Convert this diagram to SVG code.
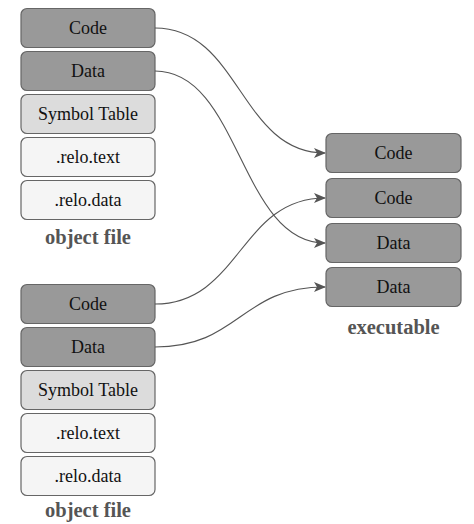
<svg xmlns="http://www.w3.org/2000/svg" width="474" height="524" viewBox="0 0 474 524">
<defs>
<style>
.box{stroke:#666;stroke-width:1.2}
.dark{fill:#999}
.sym{fill:#dcdcdc}
.relo{fill:#f5f5f5}
.t{font-family:"Liberation Serif","Times New Roman",serif;font-size:18px;fill:#111;text-anchor:middle;dominant-baseline:central}
.lbl{font-family:"Liberation Serif","Times New Roman",serif;font-size:20.5px;font-weight:bold;fill:#555;text-anchor:middle;dominant-baseline:central}
.edge{fill:none;stroke:#555;stroke-width:1.1}
</style>
<marker id="arr" viewBox="0 0 12 10" refX="11" refY="5" markerWidth="12" markerHeight="10" markerUnits="userSpaceOnUse" orient="auto">
<path d="M0,0 L12,5 L0,10 L3,5 Z" fill="#555"/>
</marker>
</defs>
<g id="obj1">
<g id="obj1-code"><rect class="box dark" x="21" y="8.5" width="134" height="39" rx="6"/><text class="t" x="88" y="28">Code</text></g>
<g id="obj1-data"><rect class="box dark" x="21" y="51.5" width="134" height="39" rx="6"/><text class="t" x="88" y="71">Data</text></g>
<g id="obj1-sym"><rect class="box sym" x="21" y="94.5" width="134" height="39" rx="6"/><text class="t" x="88" y="114">Symbol Table</text></g>
<g id="obj1-relotext"><rect class="box relo" x="21" y="137.5" width="134" height="39" rx="6"/><text class="t" x="88" y="157">.relo.text</text></g>
<g id="obj1-relodata"><rect class="box relo" x="21" y="180.5" width="134" height="39" rx="6"/><text class="t" x="88" y="200">.relo.data</text></g>
<text class="lbl" x="88" y="237">object file</text>
</g>
<g id="obj2">
<g id="obj2-code"><rect class="box dark" x="21" y="284.5" width="134" height="39" rx="6"/><text class="t" x="88" y="304">Code</text></g>
<g id="obj2-data"><rect class="box dark" x="21" y="327.5" width="134" height="39" rx="6"/><text class="t" x="88" y="347">Data</text></g>
<g id="obj2-sym"><rect class="box sym" x="21" y="370.5" width="134" height="39" rx="6"/><text class="t" x="88" y="390">Symbol Table</text></g>
<g id="obj2-relotext"><rect class="box relo" x="21" y="413.5" width="134" height="39" rx="6"/><text class="t" x="88" y="433">.relo.text</text></g>
<g id="obj2-relodata"><rect class="box relo" x="21" y="456.5" width="134" height="39" rx="6"/><text class="t" x="88" y="476">.relo.data</text></g>
<text class="lbl" x="88" y="510">object file</text>
</g>
<g id="exe">
<g id="exe-code1"><rect class="box dark" x="326" y="133.5" width="135" height="39" rx="6"/><text class="t" x="393.5" y="153">Code</text></g>
<g id="exe-code2"><rect class="box dark" x="326" y="178.5" width="135" height="39" rx="6"/><text class="t" x="393.5" y="198">Code</text></g>
<g id="exe-data1"><rect class="box dark" x="326" y="223.5" width="135" height="39" rx="6"/><text class="t" x="393.5" y="243">Data</text></g>
<g id="exe-data2"><rect class="box dark" x="326" y="267.5" width="135" height="39" rx="6"/><text class="t" x="393.5" y="287">Data</text></g>
<text class="lbl" x="393.5" y="327">executable</text>
</g>
<g id="connectors">
<path class="edge" d="M155,28 C240,28 240,153 325,153" marker-end="url(#arr)"/>
<path class="edge" d="M155,71 C240,71 240,243 325,243" marker-end="url(#arr)"/>
<path class="edge" d="M155,304 C240,304 240,198 325,198" marker-end="url(#arr)"/>
<path class="edge" d="M155,347 C240,347 240,287 325,287" marker-end="url(#arr)"/>
</g>
</svg>
